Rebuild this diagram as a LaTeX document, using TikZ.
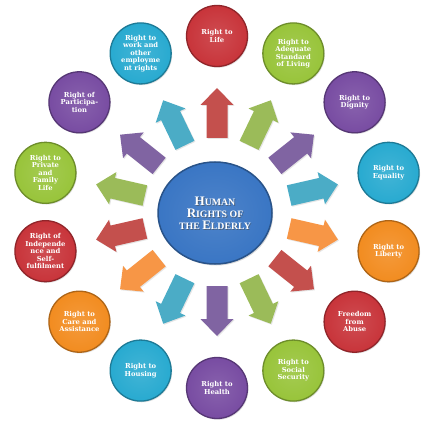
\documentclass[tikz,border=0pt]{standalone}
\usepackage{fontspec}
\setmainfont{Liberation Serif}
\newfontfamily\slabfont{DejaVu Serif}
\usetikzlibrary{shadows,shapes.geometric}
\definecolor{cRed}{RGB}{200,52,58}
\definecolor{cGreen}{RGB}{152,196,58}
\definecolor{cPurple}{RGB}{120,76,162}
\definecolor{cAqua}{RGB}{40,170,208}
\definecolor{cOrange}{RGB}{242,140,32}
\definecolor{aRed}{RGB}{196,80,77}
\definecolor{aGreen}{RGB}{155,187,89}
\definecolor{aPurple}{RGB}{128,100,162}
\definecolor{aAqua}{RGB}{75,172,198}
\definecolor{aOrange}{RGB}{247,150,70}
\definecolor{cBlue}{RGB}{58,118,196}
\tikzset{
  bubble/.style={circle, minimum size=61pt, inner sep=0pt, draw=#1!72!black, line width=1.3pt,
    inner color=#1!88!white, outer color=#1, text=white,
    font=\slabfont\bfseries\fontsize{6.8}{7.5}\selectfont, align=center,
    drop shadow={opacity=0.25, shadow xshift=1pt, shadow yshift=-1.2pt}},
  blockarrow/.style={fill=#1, draw=none, drop shadow={opacity=0.2, shadow xshift=1pt, shadow yshift=-1pt}},
}
\newcommand{\BArrow}[2]{%
  \path[blockarrow=#2, rotate=#1] (74,-10.5) -- (107,-10.5) -- (107,-16.5) -- (124,0) -- (107,16.5) -- (107,10.5) -- (74,10.5) -- cycle;}
\newcommand{\SCword}[2]{{\fontsize{13}{13.5}\selectfont #1}{\fontsize{9.8}{13.5}\selectfont #2}}
\begin{document}
\begin{tikzpicture}[x=1pt,y=1pt]
\fill[white] (0,0) rectangle (443,426);
\useasboundingbox (0,0) rectangle (443,426);
\begin{scope}[shift={(217,214)}]
  % arrows
  \BArrow{90}{aRed}
  \BArrow{64.29}{aGreen}
  \BArrow{38.57}{aPurple}
  \BArrow{12.86}{aAqua}
  \BArrow{-12.86}{aOrange}
  \BArrow{-38.57}{aRed}
  \BArrow{-64.29}{aGreen}
  \BArrow{-90}{aPurple}
  \BArrow{-115.71}{aAqua}
  \BArrow{-141.43}{aOrange}
  \BArrow{-167.14}{aRed}
  \BArrow{167.14}{aGreen}
  \BArrow{141.43}{aPurple}
  \BArrow{115.71}{aAqua}
  % circles
  \node[bubble=cRed]    (life)  at (90:176)     {Right to\\Life};
  \node[bubble=cGreen]  (adeq)  at (64.29:176)  {Right to\\Adequate\\Standard\\of Living};
  \node[bubble=cPurple] (dign)  at (38.57:176)  {Right to\\Dignity};
  \node[bubble=cAqua]   (equal) at (12.86:176)  {Right to\\Equality};
  \node[bubble=cOrange] (lib)   at (-12.86:176) {Right to\\Liberty};
  \node[bubble=cRed]    (abuse) at (-38.57:176) {Freedom\\from\\Abuse};
  \node[bubble=cGreen]  (soc)   at (-64.29:176) {Right to\\Social\\Security};
  \node[bubble=cPurple] (health) at (-90:176)   {Right to\\Health};
  \node[bubble=cAqua]   (house) at (-115.71:176) {Right to\\Housing};
  \node[bubble=cOrange] (care)  at (-141.43:176) {Right to\\Care and\\Assistance};
  \node[bubble=cRed]    (indep) at (-167.14:176) {Right of\\Independe\\nce and\\Self-\\fulfilment};
  \node[bubble=cGreen]  (priv)  at (167.14:176)  {Right to\\Private\\and\\Family\\Life};
  \node[bubble=cPurple] (part)  at (141.43:176)  {Right of\\Participa-\\tion};
  \node[bubble=cAqua]   (work)  at (115.71:176)  {Right to\\work and\\other\\employme\\nt rights};
\end{scope}
% centre
\node[ellipse, minimum width=114pt, minimum height=102pt, inner sep=0pt,
      draw=cBlue!70!black, line width=1.5pt, inner color=cBlue!90!white, outer color=cBlue,
      drop shadow={opacity=0.3, shadow xshift=1.2pt, shadow yshift=-1.5pt}] (hub) at (215,213) {};
\node[text=black!70, opacity=0.6, align=center, font=\bfseries, inner sep=0pt] at ([xshift=0.8pt,yshift=-0.8pt]hub.center)
  {\SCword{H}{UMAN}\\\SCword{R}{IGHTS OF}\\\SCword{}{THE }\SCword{E}{LDERLY}};
\node[text=white, align=center, font=\bfseries, inner sep=0pt] (hubtext) at (hub.center)
  {\SCword{H}{UMAN}\\\SCword{R}{IGHTS OF}\\\SCword{}{THE }\SCword{E}{LDERLY}};
\end{tikzpicture}
\end{document}
